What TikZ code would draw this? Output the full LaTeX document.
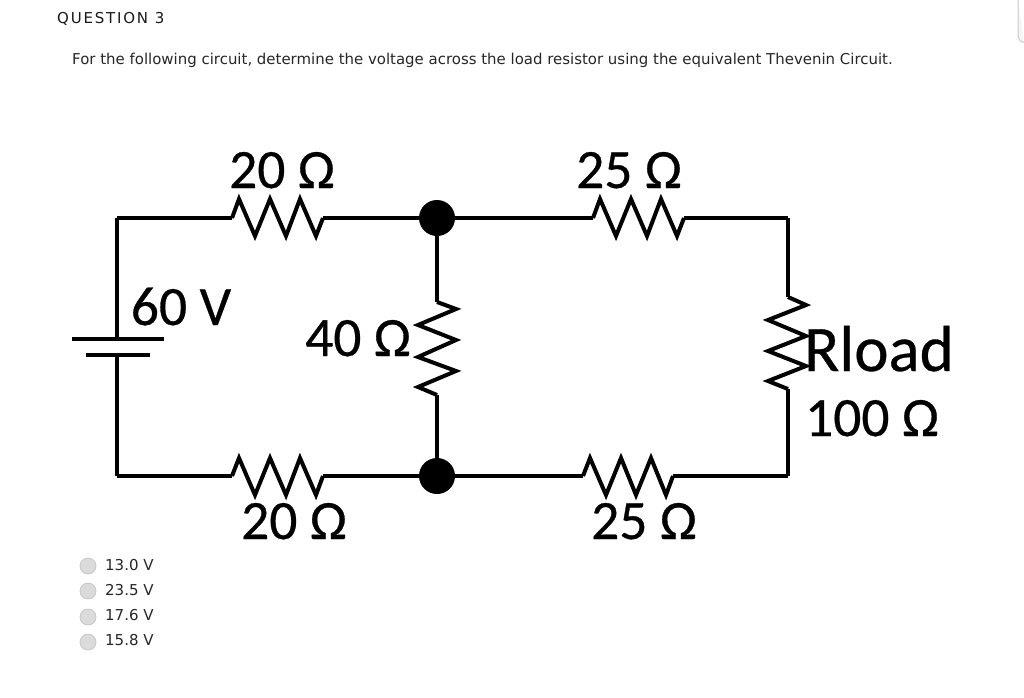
\documentclass[tikz,border=0pt]{standalone}
\usepackage{fontspec}
\setmainfont{DejaVu Sans}
\newfontfamily\labelfont[FakeBold=0.5]{Carlito}
\newfontfamily\headfont[LetterSpace=12]{DejaVu Sans}
\tikzset{
  wire/.style={line width=4.6pt,black,line join=miter},
  zig/.style={line width=4pt,black,line join=miter},
  junction/.style={circle,fill=black,inner sep=0pt,minimum size=36pt},
  value/.style={anchor=base,inner sep=0pt,font=\labelfont\fontsize{55.5}{56}\selectfont},
  radio/.style={circle,fill=black!14,draw=black!22,line width=0.8pt,inner sep=0pt,minimum size=16pt},
  choice/.style={anchor=base west,inner sep=0pt,text=black!85,font=\fontsize{15}{15}\selectfont},
}
\begin{document}
\begin{tikzpicture}[x=1pt,y=-1pt]
  \useasboundingbox (0,0) rectangle (1024,697);
  %Question text
  \node[anchor=base west,inner sep=0pt,text=black!90,font=\headfont\fontsize{15}{15}\selectfont] (title) at (57,23) {QUESTION 3};
  \node[anchor=base west,inner sep=0pt,text=black!85,font=\fontsize{14.95}{15}\selectfont] (question) at (72,64) {For the following circuit, determine the voltage across the load resistor using the equivalent Thevenin Circuit.};
  %Corner of the page
  \draw[black!20,line width=1pt,fill=black!4] (1024,42) -- (1022,42) to[out=180,in=90] (1018,37) -- (1018,0);

  %Corners and junctions
  \coordinate (TL) at (117,218);
  \coordinate (BL) at (117,476);
  \coordinate (TR) at (788,218);
  \coordinate (BR) at (788,476);
  \node[junction] (top) at (437,218) {};
  \node[junction] (bot) at (437,476) {};

  %Battery
  \coordinate (plus) at (117,339);
  \coordinate (minus) at (117,355);
  \draw[wire] (72,339) -- (164,339);
  \draw[wire] (86,355) -- (150,355);
  \draw[wire] (plus) -- (TL);
  \draw[wire] (minus) -- (BL);

  %Top resistors
  \coordinate (r1a) at (232,218);
  \coordinate (r1b) at (323,218);
  \draw[wire] (TL) -- (r1a);
  \draw[zig] (r1a) -- (239,199) -- (255,236) -- (270,199) -- (286,236) -- (300,199) -- (316,236) -- (r1b);
  \draw[wire] (r1b) -- (top);
  \coordinate (r2a) at (593,218);
  \coordinate (r2b) at (684,218);
  \draw[wire] (top) -- (r2a);
  \draw[zig] (r2a) -- (600,199) -- (616,236) -- (631,199) -- (647,236) -- (661,199) -- (677,236) -- (r2b);
  \draw[wire] (r2b) -- (TR);

  %Bottom resistors
  \coordinate (r3a) at (232,476);
  \coordinate (r3b) at (323,476);
  \draw[wire] (BL) -- (r3a);
  \draw[zig] (r3a) -- (239,458) -- (255,495) -- (270,458) -- (286,495) -- (300,458) -- (316,495) -- (r3b);
  \draw[wire] (r3b) -- (bot);
  \coordinate (r4a) at (583,476);
  \coordinate (r4b) at (673,476);
  \draw[wire] (bot) -- (r4a);
  \draw[zig] (r4a) -- (590,458) -- (606,495) -- (621,458) -- (636,495) -- (651,458) -- (666,495) -- (r4b);
  \draw[wire] (r4b) -- (BR);

  %Middle resistor
  \coordinate (r5a) at (437,302);
  \coordinate (r5b) at (437,395);
  \draw[wire] (top) -- (r5a);
  \draw[zig] (r5a) -- (456,309) -- (418,325) -- (456,340) -- (418,357) -- (456,371) -- (418,387) -- (r5b);
  \draw[wire] (r5b) -- (bot);

  %Load resistor
  \coordinate (r6a) at (788,297);
  \coordinate (r6b) at (788,389);
  \draw[wire] (TR) -- (r6a);
  \draw[zig] (r6a) -- (806,305) -- (768,320) -- (806,336) -- (768,351) -- (806,366) -- (768,381) -- (r6b);
  \draw[wire] (r6b) -- (BR);

  %Values
  \node[value] (v1) at (282,188) {20 Ω};
  \node[value] (v2) at (629,188) {25 Ω};
  \node[value] (v3) at (181,325) {60 V};
  \node[value] (v4) at (358,356) {40 Ω};
  \node[value] (v5) at (294,539) {20 Ω};
  \node[value] (v6) at (644,539) {25 Ω};
  \node[value,font=\labelfont\fontsize{65}{65}\selectfont] (v7) at (879,371) {Rload};
  \node[value] (v8) at (872,436) {100 Ω};

  %Answers
  \node[radio] (a1) at (88,566) {};
  \node[radio] (a2) at (88,591) {};
  \node[radio] (a3) at (88,617) {};
  \node[radio] (a4) at (88,642) {};
  \node[choice] (t1) at (105,570) {13.0 V};
  \node[choice] (t2) at (105,595) {23.5 V};
  \node[choice] (t3) at (105,620) {17.6 V};
  \node[choice] (t4) at (105,645) {15.8 V};
\end{tikzpicture}
\end{document}
